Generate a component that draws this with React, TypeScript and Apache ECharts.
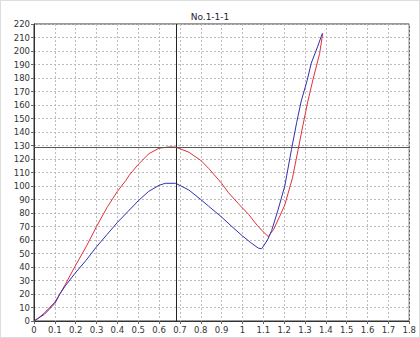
import React, { useEffect, useRef } from "react";
import * as echarts from "echarts";

const titleText = "No.1-1-1";
const redX = [0, 0.02, 0.05, 0.1, 0.124, 0.15, 0.195, 0.25, 0.3, 0.35, 0.4, 0.44, 0.457, 0.5, 0.552, 0.6, 0.65, 0.68, 0.743, 0.8, 0.838, 0.9, 0.933, 0.98, 1.029, 1.07, 1.1, 1.124, 1.15, 1.18, 1.203, 1.24, 1.267, 1.29, 1.314, 1.34, 1.37, 1.385];
const redY = [0, 2, 6, 14, 20, 27, 40, 55, 70, 84, 96, 104, 108, 116, 124, 128, 129, 128.8, 125, 119, 113, 102, 95, 87, 79, 71, 66, 62.5, 68, 78, 86, 106, 127, 145, 163, 180, 198, 213];
const blueX = [0, 0.02, 0.05, 0.1, 0.124, 0.15, 0.195, 0.25, 0.3, 0.35, 0.4, 0.45, 0.5, 0.55, 0.6, 0.63, 0.68, 0.743, 0.8, 0.838, 0.9, 0.949, 1.0, 1.04, 1.076, 1.092, 1.12, 1.14, 1.17, 1.203, 1.235, 1.26, 1.282, 1.31, 1.33, 1.36, 1.383];
const blueY = [0, 2, 5, 13, 20, 26, 35, 45, 55, 64, 73, 81, 89, 96, 100.5, 102, 102, 97, 90, 85, 77, 70, 63, 58, 54, 53.5, 60, 67, 82, 100, 127, 147, 163, 178, 191, 203, 213];
const cursorX = 0.676;
const cursorY = 129;

export default function App() {
  const ref = useRef<HTMLDivElement>(null);
  useEffect(() => {
    const chart = echarts.init(ref.current!, null, { renderer: "svg" });
    const font = "DejaVu Sans";
    chart.setOption({
      animation: false,
      backgroundColor: "#fff",
      title: {
        text: titleText,
        left: "center",
        top: 6,
        textStyle: { fontSize: 9, fontWeight: "normal", color: "#223", fontFamily: font },
      },
      grid: { left: 33, right: 7, top: 23, bottom: 16, show: true, borderColor: "#333", borderWidth: 1 },
      xAxis: {
        type: "value",
        min: 0,
        max: 1.8,
        interval: 0.1,
        axisLine: { lineStyle: { color: "#333" } },
        axisTick: { show: true, length: 3, lineStyle: { color: "#666" } },
        axisLabel: { fontSize: 8.5, color: "#333", fontFamily: font, margin: 4 },
        splitLine: { show: true, lineStyle: { color: "#bbb", type: [2, 2] } },
      },
      yAxis: {
        type: "value",
        min: 0,
        max: 220,
        interval: 10,
        axisLine: { show: true, lineStyle: { color: "#333" } },
        axisTick: { show: true, length: 3, lineStyle: { color: "#666" } },
        axisLabel: { fontSize: 8.5, color: "#333", fontFamily: font, margin: 4 },
        splitLine: { show: true, lineStyle: { color: "#bbb", type: [2, 2] } },
      },
      series: [
        {
          type: "line",
          data: redX.map((x, i) => [x, redY[i]]),
          showSymbol: false,
          symbol: "none",
          lineStyle: { color: "#e0303c", width: 1 },
          z: 3,
        },
        {
          type: "line",
          data: blueX.map((x, i) => [x, blueY[i]]),
          showSymbol: false,
          symbol: "none",
          lineStyle: { color: "#3030b0", width: 1 },
          z: 4,
          markLine: {
            silent: true,
            symbol: "none",
            label: { show: false },
            lineStyle: { color: "#222", type: "solid", width: 1 },
            data: [{ xAxis: cursorX }, { yAxis: cursorY, lineStyle: { color: "#555", width: 1 } }],
          },
        },
      ],
    });
    return () => chart.dispose();
  }, []);
  return (
    <div
      ref={ref}
      style={{ position: "absolute", left: 0, top: 0, width: 420, height: 338, boxSizing: "border-box", border: "1px solid #ddd" }}
    />
  );
}
